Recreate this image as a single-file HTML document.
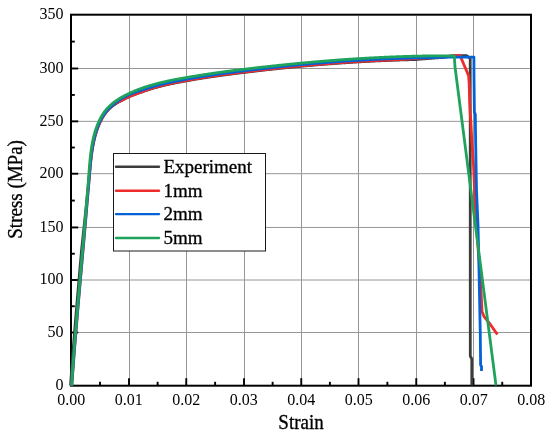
<!DOCTYPE html>
<html><head><meta charset="utf-8"><style>
html,body{margin:0;padding:0;background:#fff;}
body{width:550px;height:441px;overflow:hidden;}
svg{display:block;}
text{font-family:"Liberation Serif","Times New Roman",serif;fill:#000;}
.b text,text.b{stroke:#000;stroke-width:0.3px;}
</style></head><body>
<svg width="550" height="441" viewBox="0 0 550 441">
<g stroke="#969696" stroke-width="1" fill="none">
<line x1="129.50" y1="15.7" x2="129.50" y2="384.7"/>
<line x1="186.50" y1="15.7" x2="186.50" y2="384.7"/>
<line x1="244.50" y1="15.7" x2="244.50" y2="384.7"/>
<line x1="301.50" y1="15.7" x2="301.50" y2="384.7"/>
<line x1="358.50" y1="15.7" x2="358.50" y2="384.7"/>
<line x1="416.50" y1="15.7" x2="416.50" y2="384.7"/>
<line x1="473.50" y1="15.7" x2="473.50" y2="384.7"/>
<line x1="72" y1="332.50" x2="530" y2="332.50"/>
<line x1="72" y1="280.00" x2="530" y2="280.00"/>
<line x1="72" y1="227.45" x2="530" y2="227.45"/>
<line x1="72" y1="173.70" x2="530" y2="173.70"/>
<line x1="72" y1="121.35" x2="530" y2="121.35"/>
<line x1="72" y1="68.50" x2="530" y2="68.50"/>
</g>

<rect x="71" y="14.7" width="460" height="371" fill="none" stroke="#000" stroke-width="2"/>
<g stroke="#000" stroke-width="1.9">
<line x1="100.00" y1="385" x2="100.00" y2="381.8"/>
<line x1="129.00" y1="385" x2="129.00" y2="378.2"/>
<line x1="157.62" y1="385" x2="157.62" y2="381.8"/>
<line x1="186.25" y1="385" x2="186.25" y2="378.2"/>
<line x1="215.12" y1="385" x2="215.12" y2="381.8"/>
<line x1="244.00" y1="385" x2="244.00" y2="378.2"/>
<line x1="272.62" y1="385" x2="272.62" y2="381.8"/>
<line x1="301.25" y1="385" x2="301.25" y2="378.2"/>
<line x1="329.88" y1="385" x2="329.88" y2="381.8"/>
<line x1="358.50" y1="385" x2="358.50" y2="378.2"/>
<line x1="387.38" y1="385" x2="387.38" y2="381.8"/>
<line x1="416.25" y1="385" x2="416.25" y2="378.2"/>
<line x1="444.88" y1="385" x2="444.88" y2="381.8"/>
<line x1="473.50" y1="385" x2="473.50" y2="378.2"/>
<line x1="502.25" y1="385" x2="502.25" y2="381.8"/>
<line x1="71" y1="359.10" x2="74.8" y2="359.10"/>
<line x1="71" y1="332.50" x2="78.2" y2="332.50"/>
<line x1="71" y1="306.25" x2="74.8" y2="306.25"/>
<line x1="71" y1="280.00" x2="78.2" y2="280.00"/>
<line x1="71" y1="253.72" x2="74.8" y2="253.72"/>
<line x1="71" y1="227.45" x2="78.2" y2="227.45"/>
<line x1="71" y1="200.57" x2="74.8" y2="200.57"/>
<line x1="71" y1="173.70" x2="78.2" y2="173.70"/>
<line x1="71" y1="147.52" x2="74.8" y2="147.52"/>
<line x1="71" y1="121.35" x2="78.2" y2="121.35"/>
<line x1="71" y1="94.92" x2="74.8" y2="94.92"/>
<line x1="71" y1="68.50" x2="78.2" y2="68.50"/>
<line x1="71" y1="41.60" x2="74.8" y2="41.60"/>
</g>
<g fill="none" stroke-width="2.8" stroke-linejoin="round" stroke-linecap="butt">
<path stroke="#3c3c3c" d="M70.53,385.53 L70.58,384.82 L70.63,384.11 L70.67,383.39 L70.72,382.68 L70.77,381.97 L70.82,381.25 L70.87,380.54 L70.92,379.83 L70.97,379.11 L71.02,378.40 L71.07,377.69 L71.12,376.97 L71.17,376.26 L71.22,375.55 L71.27,374.84 L71.32,374.13 L71.37,373.41 L71.42,372.70 L71.47,371.99 L71.53,371.28 L71.58,370.57 L71.63,369.86 L71.68,369.15 L71.73,368.44 L71.78,367.73 L71.84,367.01 L71.89,366.30 L71.94,365.59 L71.99,364.88 L72.04,364.17 L72.10,363.46 L72.15,362.75 L72.20,362.04 L72.26,361.34 L72.31,360.63 L72.36,359.92 L72.42,359.21 L72.47,358.50 L72.52,357.79 L72.58,357.08 L72.63,356.37 L72.68,355.66 L72.74,354.95 L72.79,354.25 L72.85,353.54 L72.90,352.83 L72.95,352.12 L73.01,351.41 L73.06,350.71 L73.12,350.00 L73.17,349.29 L73.23,348.58 L73.28,347.88 L73.34,347.17 L73.39,346.46 L73.45,345.75 L73.50,345.05 L73.56,344.34 L73.62,343.63 L73.67,342.93 L73.73,342.22 L73.78,341.51 L73.84,340.81 L73.90,340.10 L73.95,339.39 L74.01,338.69 L74.06,337.98 L74.12,337.28 L74.18,336.57 L74.23,335.86 L74.29,335.16 L74.35,334.45 L74.41,333.75 L74.46,333.04 L74.52,332.34 L74.58,331.63 L74.63,330.93 L74.69,330.22 L74.75,329.52 L74.81,328.81 L74.86,328.11 L74.92,327.40 L74.98,326.70 L75.04,325.99 L75.10,325.29 L75.15,324.58 L75.21,323.88 L75.27,323.17 L75.33,322.47 L75.39,321.76 L75.45,321.06 L75.50,320.35 L75.56,319.65 L75.62,318.95 L75.68,318.24 L75.74,317.54 L75.80,316.83 L75.86,316.13 L75.91,315.43 L75.97,314.72 L76.03,314.02 L76.09,313.31 L76.15,312.61 L76.21,311.91 L76.27,311.20 L76.33,310.50 L76.39,309.80 L76.45,309.09 L76.51,308.39 L76.57,307.69 L76.63,306.98 L76.69,306.28 L76.75,305.58 L76.81,304.87 L76.87,304.17 L76.93,303.47 L76.99,302.76 L77.05,302.06 L77.11,301.36 L77.17,300.65 L77.23,299.95 L77.29,299.25 L77.35,298.54 L77.41,297.84 L77.47,297.14 L77.53,296.44 L77.59,295.73 L77.65,295.03 L77.71,294.33 L77.77,293.62 L77.83,292.92 L77.89,292.22 L77.95,291.52 L78.01,290.81 L78.07,290.11 L78.13,289.41 L78.19,288.70 L78.26,288.00 L78.32,287.30 L78.38,286.60 L78.44,285.89 L78.50,285.19 L78.56,284.49 L78.62,283.78 L78.68,283.08 L78.74,282.38 L78.80,281.68 L78.87,280.97 L78.93,280.27 L78.99,279.57 L79.05,278.86 L79.11,278.16 L79.17,277.46 L79.23,276.76 L79.29,276.05 L79.35,275.35 L79.42,274.65 L79.48,273.94 L79.54,273.24 L79.60,272.54 L79.66,271.84 L79.72,271.13 L79.78,270.43 L79.85,269.73 L79.91,269.02 L79.97,268.32 L80.03,267.62 L80.09,266.92 L80.15,266.21 L80.21,265.51 L80.27,264.81 L80.34,264.10 L80.40,263.40 L80.46,262.70 L80.52,261.99 L80.58,261.29 L80.64,260.59 L80.70,259.88 L80.77,259.18 L80.83,258.48 L80.89,257.77 L80.95,257.07 L81.01,256.37 L81.07,255.66 L81.13,254.96 L81.20,254.25 L81.26,253.55 L81.32,252.85 L81.38,252.14 L81.44,251.44 L81.50,250.74 L81.56,250.03 L81.64,249.33 L81.71,248.63 L81.79,247.92 L81.86,247.22 L81.94,246.52 L82.01,245.81 L82.09,245.11 L82.16,244.41 L82.24,243.70 L82.31,243.00 L82.39,242.30 L82.46,241.59 L82.54,240.89 L82.61,240.19 L82.69,239.48 L82.76,238.78 L82.84,238.08 L82.91,237.37 L82.99,236.67 L83.06,235.96 L83.14,235.26 L83.21,234.55 L83.29,233.85 L83.36,233.15 L83.44,232.44 L83.51,231.74 L83.59,231.03 L83.66,230.33 L83.74,229.62 L83.81,228.92 L83.88,228.21 L83.96,227.51 L84.03,226.80 L84.11,226.10 L84.18,225.39 L84.26,224.69 L84.33,223.98 L84.40,223.28 L84.48,222.57 L84.55,221.86 L84.63,221.16 L84.70,220.45 L84.77,219.75 L84.85,219.04 L84.92,218.33 L85.00,217.63 L85.07,216.92 L85.14,216.21 L85.22,215.51 L85.29,214.80 L85.36,214.09 L85.44,213.39 L85.51,212.68 L85.58,211.97 L85.66,211.26 L85.73,210.56 L85.80,209.85 L85.88,209.14 L85.95,208.43 L86.02,207.73 L86.10,207.02 L86.17,206.31 L86.24,205.60 L86.31,204.89 L86.39,204.18 L86.46,203.48 L86.53,202.77 L86.60,202.06 L86.68,201.35 L86.75,200.64 L86.82,199.93 L86.89,199.22 L86.96,198.51 L87.04,197.80 L87.11,197.09 L87.18,196.38 L87.25,195.67 L87.32,194.96 L87.40,194.25 L87.47,193.54 L87.54,192.83 L87.61,192.12 L87.68,191.41 L87.75,190.69 L87.82,189.98 L87.89,189.27 L87.97,188.56 L88.04,187.85 L88.11,187.14 L88.18,186.42 L88.25,185.71 L88.32,185.00 L88.39,184.29 L88.46,183.57 L88.53,182.86 L88.60,182.15 L88.67,181.43 L88.74,180.72 L88.81,180.01 L88.88,179.29 L88.95,178.58 L89.02,177.87 L89.09,177.15 L89.16,176.44 L89.23,175.72 L89.30,175.01 L89.37,174.29 L89.43,173.58 L89.50,172.86 L89.57,172.15 L89.64,171.43 L89.71,170.72 L89.78,170.00 L89.85,169.28 L89.92,168.57 L89.99,167.85 L90.06,167.14 L90.13,166.43 L90.21,165.71 L90.28,165.00 L90.35,164.28 L90.43,163.57 L90.51,162.86 L90.58,162.15 L90.66,161.43 L90.74,160.72 L90.83,160.01 L90.91,159.30 L90.99,158.59 L91.08,157.88 L91.17,157.18 L91.26,156.47 L91.35,155.76 L91.45,155.06 L91.54,154.35 L91.64,153.65 L91.74,152.94 L91.85,152.24 L91.95,151.54 L92.06,150.84 L92.17,150.14 L92.28,149.45 L92.40,148.75 L92.52,148.05 L92.64,147.36 L92.77,146.67 L92.89,145.98 L93.03,145.29 L93.16,144.60 L93.30,143.91 L93.44,143.23 L93.59,142.54 L93.73,141.86 L93.89,141.18 L94.04,140.50 L94.20,139.82 L94.35,139.14 L94.51,138.47 L94.68,137.79 L94.85,137.12 L95.02,136.45 L95.20,135.78 L95.38,135.12 L95.57,134.45 L95.76,133.79 L95.95,133.13 L96.15,132.47 L96.36,131.81 L96.57,131.16 L96.79,130.50 L97.01,129.85 L97.23,129.20 L97.46,128.56 L97.70,127.91 L97.94,127.27 L98.19,126.63 L98.44,125.99 L98.70,125.36 L98.97,124.72 L99.24,124.09 L99.51,123.46 L99.79,122.84 L100.08,122.21 L100.38,121.59 L100.68,120.97 L100.98,120.36 L101.30,119.75 L101.61,119.14 L101.94,118.54 L102.27,117.94 L102.61,117.35 L102.96,116.76 L103.31,116.17 L103.67,115.60 L104.04,115.03 L104.42,114.46 L104.80,113.90 L105.19,113.35 L105.59,112.81 L106.00,112.27 L106.43,111.75 L106.88,111.25 L107.33,110.75 L107.79,110.27 L108.25,109.78 L108.73,109.31 L109.21,108.85 L109.70,108.39 L110.20,107.94 L110.70,107.49 L111.21,107.06 L111.73,106.63 L112.26,106.20 L112.79,105.79 L113.33,105.38 L113.88,104.99 L114.45,104.61 L115.02,104.24 L115.59,103.87 L116.17,103.51 L116.76,103.16 L117.35,102.81 L117.94,102.47 L118.54,102.14 L119.14,101.81 L119.75,101.48 L120.36,101.16 L120.98,100.85 L121.60,100.54 L122.20,100.21 L122.81,99.88 L123.43,99.56 L124.04,99.24 L124.66,98.93 L125.28,98.62 L125.91,98.31 L126.54,98.01 L127.17,97.71 L127.80,97.42 L128.44,97.13 L129.08,96.84 L129.72,96.56 L130.36,96.28 L131.00,96.01 L131.65,95.74 L132.29,95.47 L132.94,95.21 L133.58,94.95 L134.23,94.69 L134.88,94.44 L135.53,94.19 L136.18,93.94 L136.83,93.70 L137.49,93.46 L138.14,93.23 L138.79,92.99 L139.45,92.76 L140.10,92.54 L140.76,92.31 L141.42,92.09 L142.07,91.86 L142.72,91.62 L143.37,91.39 L144.03,91.16 L144.68,90.94 L145.34,90.71 L146.00,90.49 L146.65,90.27 L147.31,90.06 L147.97,89.85 L148.63,89.64 L149.30,89.43 L149.96,89.23 L150.62,89.02 L151.29,88.82 L151.95,88.62 L152.61,88.42 L153.28,88.23 L153.95,88.03 L154.62,87.84 L155.28,87.65 L155.95,87.47 L156.62,87.28 L157.29,87.10 L157.97,86.92 L158.64,86.74 L159.31,86.57 L159.99,86.39 L160.66,86.22 L161.34,86.05 L162.01,85.88 L162.69,85.71 L163.37,85.55 L164.05,85.39 L164.73,85.23 L165.41,85.07 L166.09,84.91 L166.77,84.75 L167.45,84.60 L168.13,84.45 L168.82,84.30 L169.50,84.15 L170.18,84.00 L170.87,83.85 L171.56,83.71 L172.24,83.56 L172.93,83.42 L173.62,83.28 L174.30,83.14 L174.99,83.00 L175.68,82.86 L176.37,82.72 L177.06,82.59 L177.75,82.45 L178.44,82.32 L179.13,82.19 L179.82,82.06 L180.51,81.93 L181.21,81.80 L181.90,81.67 L182.59,81.54 L183.28,81.41 L183.98,81.29 L184.67,81.16 L185.37,81.03 L186.06,80.91 L186.76,80.79 L187.45,80.66 L188.15,80.54 L188.84,80.42 L189.54,80.30 L190.23,80.17 L190.93,80.05 L191.62,79.93 L192.32,79.81 L193.01,79.69 L193.71,79.57 L194.41,79.46 L195.10,79.34 L195.80,79.22 L196.50,79.11 L197.19,78.99 L197.89,78.87 L198.59,78.76 L199.28,78.64 L199.98,78.53 L200.68,78.42 L201.37,78.31 L202.07,78.20 L202.77,78.09 L203.47,77.98 L204.16,77.87 L204.86,77.76 L205.56,77.66 L206.26,77.55 L206.96,77.44 L207.66,77.34 L208.35,77.23 L209.05,77.13 L209.75,77.03 L210.45,76.92 L211.15,76.82 L211.85,76.72 L212.55,76.61 L213.25,76.51 L213.94,76.41 L214.64,76.31 L215.34,76.21 L216.04,76.11 L216.74,76.01 L217.44,75.91 L218.14,75.81 L218.84,75.71 L219.54,75.61 L220.24,75.52 L220.94,75.42 L221.64,75.32 L222.34,75.22 L223.04,75.13 L223.74,75.03 L224.44,74.94 L225.14,74.84 L225.84,74.75 L226.54,74.65 L227.24,74.56 L227.94,74.47 L228.64,74.37 L229.34,74.28 L230.04,74.19 L230.74,74.10 L231.45,74.00 L232.15,73.91 L232.85,73.82 L233.55,73.73 L234.25,73.64 L234.95,73.55 L235.65,73.46 L236.35,73.37 L237.06,73.28 L237.76,73.19 L238.46,73.11 L239.16,73.02 L239.86,72.93 L240.56,72.84 L241.26,72.76 L241.97,72.67 L242.67,72.58 L243.37,72.50 L244.07,72.41 L244.77,72.33 L245.48,72.24 L246.18,72.16 L246.88,72.07 L247.58,71.99 L248.29,71.90 L248.99,71.82 L249.69,71.74 L250.39,71.65 L251.10,71.57 L251.80,71.49 L252.50,71.40 L253.20,71.32 L253.91,71.24 L254.61,71.16 L255.31,71.08 L256.01,71.00 L256.72,70.91 L257.42,70.83 L258.12,70.75 L258.83,70.67 L259.53,70.59 L260.23,70.51 L260.94,70.43 L261.64,70.35 L262.34,70.28 L263.05,70.20 L263.75,70.12 L264.45,70.04 L265.16,69.96 L265.86,69.88 L266.56,69.81 L267.27,69.73 L267.97,69.65 L268.67,69.57 L269.38,69.50 L270.08,69.42 L270.78,69.34 L271.49,69.27 L272.19,69.19 L272.89,69.11 L273.60,69.04 L274.30,68.96 L275.01,68.89 L275.71,68.81 L276.41,68.74 L277.12,68.66 L277.82,68.59 L278.53,68.51 L279.23,68.44 L279.93,68.37 L280.64,68.29 L281.34,68.22 L282.04,68.15 L282.75,68.07 L283.45,68.00 L284.16,67.93 L284.86,67.86 L285.56,67.78 L286.27,67.71 L286.97,67.64 L287.68,67.57 L288.38,67.50 L289.09,67.43 L289.79,67.36 L290.49,67.29 L291.20,67.22 L291.90,67.15 L292.61,67.08 L293.31,67.01 L294.02,66.94 L294.72,66.87 L295.42,66.80 L296.13,66.73 L296.83,66.66 L297.54,66.59 L298.24,66.53 L298.95,66.46 L299.65,66.39 L300.36,66.32 L301.06,66.26 L301.76,66.20 L302.47,66.13 L303.17,66.07 L303.88,66.01 L304.58,65.94 L305.29,65.88 L305.99,65.82 L306.70,65.75 L307.40,65.69 L308.11,65.63 L308.81,65.57 L309.52,65.51 L310.22,65.45 L310.93,65.39 L311.63,65.32 L312.34,65.26 L313.04,65.20 L313.75,65.14 L314.45,65.08 L315.16,65.03 L315.86,64.97 L316.57,64.91 L317.27,64.85 L317.98,64.79 L318.68,64.73 L319.39,64.67 L320.09,64.62 L320.80,64.56 L321.50,64.50 L322.21,64.45 L322.92,64.39 L323.62,64.33 L324.33,64.28 L325.03,64.22 L325.74,64.17 L326.44,64.11 L327.15,64.06 L327.85,64.00 L328.56,63.95 L329.26,63.89 L329.97,63.84 L330.67,63.79 L331.38,63.73 L332.09,63.68 L332.79,63.63 L333.50,63.57 L334.20,63.52 L334.91,63.47 L335.61,63.42 L336.32,63.37 L337.02,63.32 L337.73,63.27 L338.43,63.22 L339.14,63.17 L339.85,63.12 L340.55,63.07 L341.26,63.02 L341.96,62.97 L342.67,62.92 L343.37,62.87 L344.08,62.82 L344.79,62.77 L345.49,62.73 L346.20,62.68 L346.90,62.63 L347.61,62.59 L348.31,62.54 L349.02,62.49 L349.73,62.45 L350.43,62.40 L351.14,62.36 L351.84,62.31 L352.55,62.27 L353.25,62.22 L353.96,62.18 L354.67,62.13 L355.37,62.09 L356.08,62.05 L356.78,62.00 L357.49,61.96 L358.20,61.92 L358.90,61.88 L359.61,61.84 L360.31,61.79 L361.02,61.75 L361.73,61.71 L362.43,61.67 L363.14,61.63 L363.84,61.59 L364.55,61.55 L365.26,61.51 L365.96,61.47 L366.67,61.44 L367.37,61.40 L368.08,61.36 L368.79,61.32 L369.49,61.28 L370.20,61.25 L370.90,61.21 L371.61,61.17 L372.32,61.14 L373.02,61.10 L373.73,61.07 L374.44,61.03 L375.14,61.00 L375.85,60.96 L376.55,60.93 L377.26,60.90 L377.97,60.86 L378.67,60.83 L379.38,60.80 L380.09,60.76 L380.79,60.73 L381.50,60.70 L382.20,60.67 L382.91,60.64 L383.62,60.61 L384.32,60.57 L385.03,60.54 L385.74,60.51 L386.44,60.49 L387.15,60.46 L387.85,60.43 L388.56,60.40 L389.27,60.37 L389.97,60.34 L390.68,60.31 L391.39,60.29 L392.09,60.26 L392.80,60.23 L393.51,60.21 L394.21,60.18 L394.92,60.16 L395.63,60.13 L396.33,60.11 L397.04,60.08 L397.74,60.06 L398.45,60.03 L399.16,60.01 L399.86,59.99 L400.57,59.97 L401.28,59.94 L401.98,59.92 L402.69,59.90 L403.40,59.88 L404.10,59.86 L404.81,59.84 L405.52,59.82 L406.22,59.80 L406.93,59.78 L407.64,59.76 L408.34,59.74 L409.05,59.72 L409.76,59.70 L410.46,59.68 L411.17,59.67 L411.88,59.65 L412.58,59.63 L413.29,59.62 L414.00,59.60 L414.70,59.58 L415.41,59.57 L416.11,59.51 L416.82,59.44 L417.53,59.38 L418.23,59.32 L418.94,59.26 L419.64,59.20 L420.35,59.14 L421.05,59.08 L421.76,59.02 L422.47,58.96 L423.17,58.90 L423.88,58.84 L424.58,58.79 L425.29,58.73 L426.00,58.67 L426.70,58.61 L427.41,58.56 L428.12,58.50 L428.82,58.45 L429.53,58.39 L430.24,58.33 L430.94,58.28 L431.65,58.23 L432.36,58.17 L433.06,58.12 L433.77,58.07 L434.48,58.01 L435.18,57.96 L435.89,57.91 L436.60,57.86 L437.31,57.81 L438.01,57.75 L438.72,57.70 L439.43,57.65 L440.13,57.60 L440.84,57.50 L441.55,57.40 L442.26,57.30 L442.96,57.19 L443.67,57.09 L444.38,56.99 L445.09,56.89 L445.80,56.79 L446.50,56.69 L447.21,56.59 L447.92,56.49 L448.63,56.39 L449.34,56.29 L450.05,56.19 L450.76,56.09 L451.46,56.00 L452.17,55.90 L452.88,55.80 L453.59,55.70 L454.30,55.61 L466.60,55.60 L470.20,58.50 L470.30,356.00 L471.80,359.00 L471.80,385.50"/>
<path stroke="#ee2c2c" d="M71.83,385.62 L71.87,384.91 L71.92,384.19 L71.97,383.48 L72.02,382.77 L72.07,382.05 L72.12,381.34 L72.17,380.63 L72.23,379.92 L72.28,379.20 L72.33,378.49 L72.38,377.78 L72.43,377.07 L72.48,376.36 L72.53,375.64 L72.58,374.93 L72.64,374.22 L72.69,373.51 L72.74,372.80 L72.79,372.09 L72.84,371.38 L72.90,370.66 L72.95,369.95 L73.00,369.24 L73.05,368.53 L73.11,367.82 L73.16,367.11 L73.21,366.40 L73.27,365.69 L73.32,364.98 L73.37,364.27 L73.43,363.56 L73.48,362.85 L73.54,362.14 L73.59,361.43 L73.64,360.73 L73.70,360.02 L73.75,359.31 L73.81,358.60 L73.86,357.89 L73.92,357.18 L73.97,356.47 L74.03,355.77 L74.08,355.06 L74.14,354.35 L74.19,353.64 L74.25,352.93 L74.30,352.23 L74.36,351.52 L74.41,350.81 L74.47,350.10 L74.53,349.40 L74.58,348.69 L74.64,347.98 L74.70,347.27 L74.75,346.57 L74.81,345.86 L74.86,345.15 L74.92,344.45 L74.98,343.74 L75.04,343.03 L75.09,342.33 L75.15,341.62 L75.21,340.92 L75.26,340.21 L75.32,339.50 L75.38,338.80 L75.44,338.09 L75.49,337.39 L75.55,336.68 L75.61,335.98 L75.67,335.27 L75.73,334.56 L75.78,333.86 L75.84,333.15 L75.90,332.45 L75.96,331.74 L76.02,331.04 L76.08,330.33 L76.13,329.63 L76.19,328.92 L76.25,328.22 L76.31,327.51 L76.37,326.81 L76.43,326.11 L76.49,325.40 L76.55,324.70 L76.61,323.99 L76.67,323.29 L76.72,322.58 L76.78,321.88 L76.84,321.17 L76.90,320.47 L76.96,319.77 L77.02,319.06 L77.08,318.36 L77.14,317.66 L77.20,316.95 L77.26,316.25 L77.32,315.54 L77.38,314.84 L77.44,314.14 L77.50,313.43 L77.56,312.73 L77.62,312.03 L77.68,311.32 L77.74,310.62 L77.81,309.92 L77.87,309.21 L77.93,308.51 L77.99,307.81 L78.05,307.10 L78.11,306.40 L78.17,305.70 L78.23,304.99 L78.29,304.29 L78.35,303.59 L78.41,302.88 L78.47,302.18 L78.54,301.48 L78.60,300.78 L78.66,300.07 L78.72,299.37 L78.78,298.67 L78.84,297.96 L78.90,297.26 L78.97,296.56 L79.03,295.86 L79.09,295.15 L79.15,294.45 L79.21,293.75 L79.27,293.05 L79.34,292.34 L79.40,291.64 L79.46,290.94 L79.52,290.23 L79.58,289.53 L79.64,288.83 L79.71,288.13 L79.77,287.42 L79.83,286.72 L79.89,286.02 L79.96,285.32 L80.02,284.61 L80.08,283.91 L80.14,283.21 L80.20,282.51 L80.27,281.80 L80.33,281.10 L80.39,280.40 L80.45,279.70 L80.51,278.99 L80.58,278.29 L80.64,277.59 L80.70,276.88 L80.76,276.18 L80.83,275.48 L80.89,274.78 L80.95,274.07 L81.01,273.37 L81.08,272.67 L81.14,271.97 L81.20,271.26 L81.26,270.56 L81.33,269.86 L81.39,269.15 L81.45,268.45 L81.51,267.75 L81.58,267.05 L81.64,266.34 L81.70,265.64 L81.76,264.94 L81.83,264.23 L81.89,263.53 L81.95,262.83 L82.01,262.12 L82.08,261.42 L82.14,260.72 L82.20,260.01 L82.26,259.31 L82.33,258.61 L82.39,257.90 L82.45,257.20 L82.51,256.50 L82.58,255.79 L82.64,255.09 L82.70,254.39 L82.76,253.68 L82.83,252.98 L82.89,252.27 L82.95,251.57 L83.01,250.87 L83.08,250.16 L83.14,249.46 L83.20,248.76 L83.26,248.05 L83.33,247.35 L83.39,246.64 L83.45,245.94 L83.51,245.23 L83.57,244.53 L83.64,243.83 L83.70,243.12 L83.76,242.42 L83.82,241.71 L83.89,241.01 L83.95,240.30 L84.01,239.60 L84.07,238.89 L84.13,238.19 L84.20,237.48 L84.26,236.78 L84.32,236.07 L84.38,235.37 L84.44,234.66 L84.51,233.96 L84.57,233.25 L84.63,232.54 L84.69,231.84 L84.75,231.13 L84.81,230.43 L84.88,229.72 L84.94,229.01 L85.00,228.31 L85.06,227.60 L85.12,226.90 L85.18,226.19 L85.24,225.48 L85.31,224.78 L85.37,224.07 L85.43,223.36 L85.49,222.66 L85.55,221.95 L85.61,221.24 L85.67,220.53 L85.73,219.83 L85.79,219.12 L85.86,218.41 L85.92,217.71 L85.98,217.00 L86.04,216.29 L86.10,215.58 L86.16,214.87 L86.22,214.17 L86.28,213.46 L86.34,212.75 L86.40,212.04 L86.46,211.33 L86.52,210.62 L86.58,209.91 L86.64,209.21 L86.70,208.50 L86.76,207.79 L86.82,207.08 L86.88,206.37 L86.94,205.66 L87.00,204.95 L87.06,204.24 L87.12,203.53 L87.18,202.82 L87.24,202.11 L87.30,201.40 L87.36,200.69 L87.42,199.98 L87.48,199.27 L87.54,198.56 L87.61,197.85 L87.67,197.14 L87.73,196.43 L87.79,195.71 L87.85,195.00 L87.92,194.29 L87.98,193.58 L88.04,192.87 L88.10,192.16 L88.16,191.44 L88.23,190.73 L88.29,190.02 L88.35,189.31 L88.41,188.60 L88.47,187.88 L88.53,187.17 L88.60,186.46 L88.66,185.74 L88.72,185.03 L88.78,184.32 L88.84,183.60 L88.90,182.89 L88.96,182.18 L89.02,181.46 L89.08,180.75 L89.14,180.03 L89.20,179.32 L89.26,178.60 L89.32,177.89 L89.38,177.17 L89.44,176.46 L89.50,175.74 L89.56,175.03 L89.62,174.31 L89.68,173.60 L89.74,172.88 L89.80,172.16 L89.86,171.45 L89.92,170.73 L89.98,170.02 L90.04,169.30 L90.10,168.58 L90.16,167.87 L90.22,167.15 L90.28,166.44 L90.35,165.72 L90.41,165.01 L90.48,164.29 L90.54,163.58 L90.61,162.87 L90.68,162.15 L90.75,161.44 L90.82,160.73 L90.89,160.02 L90.96,159.31 L91.04,158.60 L91.12,157.89 L91.20,157.18 L91.28,156.47 L91.36,155.76 L91.44,155.06 L91.53,154.35 L91.62,153.64 L91.71,152.94 L91.81,152.24 L91.90,151.54 L92.00,150.83 L92.10,150.13 L92.21,149.43 L92.31,148.74 L92.42,148.04 L92.54,147.34 L92.65,146.65 L92.77,145.96 L92.89,145.26 L93.02,144.57 L93.15,143.88 L93.28,143.20 L93.42,142.51 L93.56,141.82 L93.70,141.14 L93.85,140.46 L94.00,139.78 L94.17,139.10 L94.33,138.43 L94.50,137.75 L94.67,137.08 L94.85,136.41 L95.03,135.74 L95.22,135.07 L95.41,134.41 L95.61,133.75 L95.81,133.08 L96.01,132.43 L96.22,131.77 L96.44,131.11 L96.66,130.46 L96.88,129.81 L97.12,129.16 L97.35,128.52 L97.59,127.87 L97.84,127.23 L98.09,126.59 L98.35,125.95 L98.61,125.32 L98.88,124.69 L99.15,124.06 L99.43,123.43 L99.72,122.80 L100.01,122.18 L100.31,121.56 L100.62,120.95 L100.93,120.33 L101.24,119.72 L101.57,119.12 L101.90,118.52 L102.23,117.92 L102.58,117.33 L102.93,116.74 L103.29,116.16 L103.65,115.58 L104.02,115.01 L104.40,114.45 L104.79,113.89 L105.19,113.34 L105.59,112.80 L106.00,112.27 L106.42,111.74 L106.85,111.23 L107.28,110.72 L107.73,110.22 L108.18,109.72 L108.65,109.24 L109.12,108.76 L109.60,108.28 L110.08,107.82 L110.58,107.36 L111.08,106.91 L111.58,106.46 L112.10,106.02 L112.62,105.59 L113.15,105.16 L113.68,104.74 L114.23,104.33 L114.77,103.92 L115.33,103.52 L115.89,103.12 L116.49,102.78 L117.09,102.45 L117.70,102.12 L118.32,101.80 L118.94,101.49 L119.56,101.18 L120.18,100.88 L120.81,100.58 L121.44,100.29 L122.06,99.96 L122.68,99.65 L123.30,99.33 L123.92,99.02 L124.55,98.72 L125.18,98.42 L125.81,98.13 L126.45,97.84 L127.09,97.55 L127.73,97.27 L128.37,96.99 L129.01,96.72 L129.66,96.44 L130.31,96.18 L130.95,95.90 L131.60,95.63 L132.24,95.37 L132.89,95.10 L133.54,94.85 L134.19,94.59 L134.84,94.34 L135.49,94.09 L136.14,93.84 L136.79,93.60 L137.45,93.36 L138.10,93.13 L138.76,92.90 L139.41,92.67 L140.07,92.44 L140.73,92.22 L141.38,92.00 L142.03,91.75 L142.68,91.50 L143.33,91.26 L143.98,91.02 L144.63,90.78 L145.28,90.54 L145.94,90.31 L146.59,90.08 L147.25,89.85 L147.90,89.62 L148.56,89.40 L149.22,89.18 L149.88,88.96 L150.54,88.75 L151.20,88.54 L151.86,88.33 L152.53,88.13 L153.20,87.94 L153.86,87.74 L154.53,87.55 L155.20,87.36 L155.87,87.17 L156.54,86.98 L157.21,86.80 L157.89,86.62 L158.56,86.44 L159.23,86.26 L159.91,86.08 L160.59,85.91 L161.26,85.74 L161.94,85.57 L162.62,85.40 L163.29,85.23 L163.97,85.07 L164.65,84.91 L165.33,84.75 L166.02,84.59 L166.70,84.43 L167.38,84.27 L168.06,84.12 L168.75,83.97 L169.43,83.82 L170.12,83.67 L170.80,83.52 L171.49,83.37 L172.17,83.23 L172.86,83.08 L173.55,82.94 L174.24,82.80 L174.92,82.66 L175.61,82.52 L176.30,82.38 L176.99,82.24 L177.68,82.11 L178.37,81.97 L179.07,81.84 L179.76,81.70 L180.45,81.57 L181.14,81.44 L181.83,81.31 L182.53,81.18 L183.22,81.05 L183.91,80.92 L184.61,80.80 L185.30,80.67 L186.00,80.54 L186.69,80.42 L187.39,80.29 L188.08,80.17 L188.78,80.05 L189.47,79.92 L190.17,79.80 L190.86,79.68 L191.56,79.56 L192.26,79.43 L192.95,79.31 L193.65,79.19 L194.34,79.07 L195.04,78.96 L195.74,78.84 L196.43,78.72 L197.13,78.60 L197.83,78.48 L198.52,78.37 L199.22,78.25 L199.92,78.14 L200.61,78.02 L201.31,77.91 L202.01,77.80 L202.71,77.69 L203.41,77.58 L204.10,77.48 L204.80,77.37 L205.50,77.26 L206.20,77.16 L206.90,77.05 L207.60,76.94 L208.29,76.84 L208.99,76.73 L209.69,76.63 L210.39,76.53 L211.09,76.42 L211.79,76.32 L212.49,76.22 L213.19,76.12 L213.89,76.01 L214.59,75.91 L215.29,75.81 L215.99,75.71 L216.69,75.61 L217.39,75.51 L218.08,75.41 L218.78,75.32 L219.48,75.22 L220.18,75.12 L220.88,75.02 L221.58,74.93 L222.29,74.83 L222.99,74.73 L223.69,74.64 L224.39,74.54 L225.09,74.45 L225.79,74.35 L226.49,74.26 L227.19,74.16 L227.89,74.07 L228.59,73.98 L229.29,73.88 L229.99,73.79 L230.69,73.70 L231.39,73.61 L232.10,73.52 L232.80,73.43 L233.50,73.33 L234.20,73.24 L234.90,73.15 L235.60,73.06 L236.30,72.98 L237.01,72.89 L237.71,72.80 L238.41,72.71 L239.11,72.62 L239.81,72.53 L240.51,72.45 L241.22,72.36 L241.92,72.27 L242.62,72.19 L243.32,72.10 L244.02,72.01 L244.73,71.93 L245.43,71.84 L246.13,71.76 L246.83,71.67 L247.54,71.59 L248.24,71.51 L248.94,71.42 L249.64,71.34 L250.35,71.26 L251.05,71.17 L251.75,71.09 L252.45,71.01 L253.16,70.92 L253.86,70.84 L254.56,70.76 L255.27,70.68 L255.97,70.60 L256.67,70.52 L257.37,70.44 L258.08,70.36 L258.78,70.28 L259.48,70.20 L260.19,70.12 L260.89,70.04 L261.59,69.96 L262.30,69.88 L263.00,69.80 L263.70,69.72 L264.41,69.64 L265.11,69.56 L265.82,69.49 L266.52,69.41 L267.22,69.33 L267.93,69.25 L268.63,69.18 L269.33,69.10 L270.04,69.02 L270.74,68.95 L271.44,68.87 L272.15,68.79 L272.85,68.72 L273.56,68.64 L274.26,68.57 L274.96,68.49 L275.67,68.41 L276.37,68.34 L277.08,68.27 L277.78,68.19 L278.48,68.12 L279.19,68.04 L279.89,67.97 L280.60,67.90 L281.30,67.82 L282.00,67.75 L282.71,67.68 L283.41,67.60 L284.12,67.53 L284.82,67.46 L285.52,67.39 L286.23,67.31 L286.93,67.24 L287.64,67.17 L288.34,67.10 L289.05,67.03 L289.75,66.96 L290.45,66.89 L291.16,66.82 L291.86,66.75 L292.57,66.68 L293.27,66.61 L293.98,66.54 L294.68,66.47 L295.39,66.40 L296.09,66.33 L296.79,66.26 L297.50,66.20 L298.20,66.13 L298.91,66.06 L299.61,65.99 L300.32,65.93 L301.02,65.86 L301.73,65.80 L302.43,65.73 L303.14,65.67 L303.84,65.61 L304.55,65.55 L305.25,65.48 L305.96,65.42 L306.66,65.36 L307.37,65.30 L308.07,65.24 L308.78,65.17 L309.48,65.11 L310.19,65.05 L310.89,64.99 L311.60,64.93 L312.30,64.87 L313.01,64.81 L313.71,64.75 L314.42,64.69 L315.12,64.63 L315.83,64.57 L316.53,64.52 L317.24,64.46 L317.95,64.40 L318.65,64.34 L319.36,64.28 L320.06,64.23 L320.77,64.17 L321.47,64.11 L322.18,64.06 L322.88,64.00 L323.59,63.94 L324.29,63.89 L325.00,63.83 L325.71,63.78 L326.41,63.72 L327.12,63.67 L327.82,63.61 L328.53,63.56 L329.23,63.51 L329.94,63.45 L330.64,63.40 L331.35,63.35 L332.06,63.29 L332.76,63.24 L333.47,63.19 L334.17,63.14 L334.88,63.09 L335.58,63.03 L336.29,62.98 L337.00,62.93 L337.70,62.88 L338.41,62.83 L339.11,62.78 L339.82,62.73 L340.52,62.68 L341.23,62.63 L341.94,62.59 L342.64,62.54 L343.35,62.49 L344.05,62.44 L344.76,62.39 L345.46,62.35 L346.17,62.30 L346.88,62.25 L347.58,62.21 L348.29,62.16 L348.99,62.11 L349.70,62.07 L350.41,62.02 L351.11,61.98 L351.82,61.93 L352.52,61.89 L353.23,61.84 L353.94,61.80 L354.64,61.76 L355.35,61.71 L356.05,61.67 L356.76,61.63 L357.47,61.59 L358.17,61.54 L358.88,61.50 L359.59,61.46 L360.29,61.42 L361.00,61.38 L361.70,61.34 L362.41,61.30 L363.12,61.26 L363.82,61.22 L364.53,61.18 L365.23,61.14 L365.94,61.10 L366.65,61.06 L367.35,61.03 L368.06,60.99 L368.77,60.95 L369.47,60.91 L370.18,60.88 L370.88,60.84 L371.59,60.80 L372.30,60.77 L373.00,60.73 L373.71,60.70 L374.42,60.66 L375.12,60.63 L375.83,60.59 L376.54,60.56 L377.24,60.53 L377.95,60.49 L378.65,60.46 L379.36,60.43 L380.07,60.40 L380.77,60.36 L381.48,60.33 L382.19,60.30 L382.89,60.27 L383.60,60.24 L384.31,60.21 L385.01,60.18 L385.72,60.15 L386.43,60.12 L387.13,60.09 L387.84,60.06 L388.55,60.03 L389.25,60.01 L389.96,59.98 L390.67,59.95 L391.37,59.93 L392.08,59.90 L392.79,59.87 L393.49,59.85 L394.20,59.82 L394.90,59.80 L395.61,59.77 L396.32,59.75 L397.02,59.72 L397.73,59.70 L398.44,59.67 L399.14,59.65 L399.85,59.63 L400.56,59.58 L401.26,59.53 L401.97,59.48 L402.67,59.43 L403.38,59.38 L404.09,59.33 L404.79,59.28 L405.50,59.23 L406.20,59.18 L406.91,59.14 L407.62,59.09 L408.32,59.04 L409.03,58.99 L409.73,58.95 L410.44,58.90 L411.15,58.86 L411.85,58.81 L412.56,58.77 L413.27,58.72 L413.97,58.68 L414.68,58.63 L415.38,58.59 L416.09,58.55 L416.80,58.50 L417.50,58.46 L418.21,58.42 L418.92,58.38 L419.62,58.34 L420.33,58.30 L421.04,58.26 L421.74,58.22 L422.45,58.18 L423.16,58.14 L423.87,58.10 L424.57,58.06 L425.28,58.02 L425.99,57.98 L426.69,57.95 L427.40,57.91 L428.11,57.87 L428.81,57.83 L429.52,57.80 L430.23,57.76 L430.94,57.73 L431.64,57.69 L432.35,57.66 L433.06,57.62 L433.76,57.59 L434.47,57.56 L435.18,57.52 L435.89,57.49 L436.59,57.46 L437.30,57.43 L438.01,57.40 L438.72,57.37 L439.43,57.33 L440.13,57.30 L440.84,57.22 L441.55,57.13 L442.26,57.04 L442.96,56.95 L443.67,56.87 L444.38,56.78 L445.09,56.69 L445.80,56.61 L446.50,56.52 L447.21,56.44 L447.92,56.35 L448.63,56.27 L449.34,56.18 L450.05,56.10 L450.76,56.02 L451.46,55.94 L452.17,55.85 L452.88,55.77 L453.59,55.69 L454.30,55.61 L460.60,55.60 L461.20,58.20 L468.60,75.60 L469.20,84.00 L469.60,100.00 L470.20,113.00 L470.80,121.00 L471.90,142.00 L473.40,162.70 L474.50,188.00 L475.10,211.00 L480.30,276.00 L481.00,290.00 L482.00,311.50 L483.90,316.30 L490.20,324.20 L497.40,334.50"/>
<path stroke="#0362d8" d="M71.73,385.62 L71.77,384.90 L71.82,384.19 L71.87,383.47 L71.92,382.76 L71.97,382.05 L72.02,381.33 L72.07,380.62 L72.12,379.91 L72.17,379.20 L72.22,378.48 L72.27,377.77 L72.33,377.06 L72.38,376.35 L72.43,375.64 L72.48,374.92 L72.53,374.21 L72.58,373.50 L72.63,372.79 L72.69,372.08 L72.74,371.37 L72.79,370.66 L72.84,369.95 L72.89,369.24 L72.95,368.52 L73.00,367.81 L73.05,367.10 L73.10,366.39 L73.16,365.68 L73.21,364.97 L73.26,364.26 L73.32,363.55 L73.37,362.85 L73.42,362.14 L73.48,361.43 L73.53,360.72 L73.59,360.01 L73.64,359.30 L73.69,358.59 L73.75,357.88 L73.80,357.17 L73.86,356.47 L73.91,355.76 L73.97,355.05 L74.02,354.34 L74.08,353.63 L74.13,352.92 L74.19,352.22 L74.24,351.51 L74.30,350.80 L74.35,350.09 L74.41,349.39 L74.46,348.68 L74.52,347.97 L74.58,347.27 L74.63,346.56 L74.69,345.85 L74.74,345.14 L74.80,344.44 L74.86,343.73 L74.91,343.03 L74.97,342.32 L75.03,341.61 L75.08,340.91 L75.14,340.20 L75.20,339.49 L75.25,338.79 L75.31,338.08 L75.37,337.38 L75.43,336.67 L75.48,335.97 L75.54,335.26 L75.60,334.55 L75.66,333.85 L75.71,333.14 L75.77,332.44 L75.83,331.73 L75.89,331.03 L75.95,330.32 L76.00,329.62 L76.06,328.91 L76.12,328.21 L76.18,327.50 L76.24,326.80 L76.30,326.09 L76.36,325.39 L76.41,324.69 L76.47,323.98 L76.53,323.28 L76.59,322.57 L76.65,321.87 L76.71,321.16 L76.77,320.46 L76.83,319.76 L76.89,319.05 L76.95,318.35 L77.01,317.64 L77.07,316.94 L77.13,316.24 L77.19,315.53 L77.25,314.83 L77.30,314.13 L77.36,313.42 L77.42,312.72 L77.48,312.01 L77.54,311.31 L77.60,310.61 L77.67,309.90 L77.73,309.20 L77.79,308.50 L77.85,307.79 L77.91,307.09 L77.97,306.39 L78.03,305.68 L78.09,304.98 L78.15,304.28 L78.21,303.58 L78.27,302.87 L78.33,302.17 L78.39,301.47 L78.45,300.76 L78.51,300.06 L78.57,299.36 L78.64,298.65 L78.70,297.95 L78.76,297.25 L78.82,296.55 L78.88,295.84 L78.94,295.14 L79.00,294.44 L79.06,293.74 L79.12,293.03 L79.19,292.33 L79.25,291.63 L79.31,290.92 L79.37,290.22 L79.43,289.52 L79.49,288.82 L79.56,288.11 L79.62,287.41 L79.68,286.71 L79.74,286.01 L79.80,285.30 L79.86,284.60 L79.93,283.90 L79.99,283.19 L80.05,282.49 L80.11,281.79 L80.17,281.09 L80.23,280.38 L80.30,279.68 L80.36,278.98 L80.42,278.28 L80.48,277.57 L80.54,276.87 L80.61,276.17 L80.67,275.47 L80.73,274.76 L80.79,274.06 L80.85,273.36 L80.92,272.65 L80.98,271.95 L81.04,271.25 L81.10,270.55 L81.16,269.84 L81.23,269.14 L81.29,268.44 L81.35,267.73 L81.41,267.03 L81.48,266.33 L81.54,265.62 L81.60,264.92 L81.66,264.22 L81.72,263.52 L81.79,262.81 L81.85,262.11 L81.91,261.41 L81.97,260.70 L82.03,260.00 L82.10,259.30 L82.16,258.59 L82.22,257.89 L82.28,257.19 L82.35,256.48 L82.41,255.78 L82.47,255.07 L82.53,254.37 L82.59,253.67 L82.66,252.96 L82.72,252.26 L82.78,251.56 L82.84,250.85 L82.90,250.15 L82.97,249.44 L83.03,248.74 L83.09,248.04 L83.15,247.33 L83.21,246.63 L83.28,245.92 L83.34,245.22 L83.40,244.51 L83.46,243.81 L83.52,243.11 L83.58,242.40 L83.65,241.70 L83.71,240.99 L83.77,240.29 L83.83,239.58 L83.89,238.88 L83.96,238.17 L84.02,237.47 L84.08,236.76 L84.14,236.06 L84.20,235.35 L84.26,234.65 L84.32,233.94 L84.39,233.23 L84.45,232.53 L84.51,231.82 L84.57,231.12 L84.63,230.41 L84.69,229.71 L84.75,229.00 L84.81,228.29 L84.88,227.59 L84.94,226.88 L85.00,226.17 L85.06,225.47 L85.12,224.76 L85.18,224.05 L85.24,223.35 L85.30,222.64 L85.36,221.93 L85.42,221.23 L85.48,220.52 L85.55,219.81 L85.61,219.10 L85.67,218.40 L85.73,217.69 L85.79,216.98 L85.85,216.27 L85.91,215.57 L85.97,214.86 L86.03,214.15 L86.09,213.44 L86.15,212.73 L86.21,212.02 L86.27,211.32 L86.33,210.61 L86.39,209.90 L86.45,209.19 L86.51,208.48 L86.57,207.77 L86.63,207.06 L86.69,206.35 L86.75,205.64 L86.80,204.93 L86.86,204.22 L86.92,203.51 L86.98,202.80 L87.04,202.09 L87.10,201.38 L87.16,200.67 L87.22,199.96 L87.28,199.25 L87.34,198.54 L87.41,197.83 L87.47,197.12 L87.53,196.41 L87.59,195.70 L87.66,194.99 L87.72,194.28 L87.78,193.56 L87.84,192.85 L87.90,192.14 L87.97,191.43 L88.03,190.72 L88.09,190.00 L88.15,189.29 L88.21,188.58 L88.27,187.87 L88.33,187.15 L88.40,186.44 L88.46,185.73 L88.52,185.01 L88.58,184.30 L88.64,183.59 L88.70,182.87 L88.76,182.16 L88.82,181.45 L88.88,180.73 L88.94,180.02 L89.00,179.30 L89.06,178.59 L89.12,177.87 L89.18,177.16 L89.24,176.44 L89.30,175.73 L89.36,175.01 L89.42,174.30 L89.48,173.58 L89.54,172.86 L89.60,172.15 L89.66,171.43 L89.72,170.72 L89.78,170.00 L89.84,169.28 L89.90,168.57 L89.96,167.85 L90.02,167.14 L90.09,166.42 L90.15,165.71 L90.21,164.99 L90.28,164.28 L90.34,163.56 L90.41,162.85 L90.48,162.14 L90.55,161.42 L90.62,160.71 L90.69,160.00 L90.77,159.29 L90.84,158.58 L90.92,157.87 L91.00,157.16 L91.08,156.45 L91.16,155.74 L91.25,155.03 L91.33,154.33 L91.42,153.62 L91.51,152.92 L91.61,152.21 L91.70,151.51 L91.80,150.81 L91.90,150.11 L92.01,149.41 L92.12,148.71 L92.23,148.01 L92.34,147.31 L92.46,146.62 L92.57,145.92 L92.70,145.23 L92.82,144.54 L92.95,143.85 L93.08,143.16 L93.22,142.47 L93.36,141.79 L93.50,141.10 L93.65,140.42 L93.80,139.74 L93.96,139.06 L94.11,138.38 L94.28,137.70 L94.44,137.02 L94.61,136.35 L94.79,135.68 L94.97,135.01 L95.15,134.34 L95.34,133.67 L95.54,133.01 L95.73,132.34 L95.94,131.68 L96.15,131.02 L96.36,130.36 L96.58,129.71 L96.80,129.06 L97.03,128.40 L97.27,127.75 L97.51,127.11 L97.75,126.46 L98.00,125.82 L98.26,125.18 L98.52,124.54 L98.79,123.90 L99.07,123.27 L99.35,122.64 L99.64,122.01 L99.93,121.38 L100.24,120.77 L100.56,120.15 L100.89,119.54 L101.22,118.94 L101.56,118.33 L101.91,117.74 L102.26,117.15 L102.62,116.56 L102.98,115.98 L103.36,115.40 L103.74,114.83 L104.13,114.27 L104.52,113.71 L104.93,113.16 L105.34,112.62 L105.76,112.09 L106.18,111.56 L106.61,111.04 L107.05,110.52 L107.50,110.02 L107.95,109.52 L108.42,109.03 L108.89,108.54 L109.37,108.07 L109.86,107.59 L110.36,107.13 L110.86,106.67 L111.37,106.23 L111.89,105.78 L112.41,105.34 L112.94,104.91 L113.45,104.46 L113.97,104.01 L114.50,103.56 L115.03,103.12 L115.57,102.69 L116.11,102.26 L116.66,101.83 L117.22,101.41 L117.78,101.00 L118.35,100.59 L118.92,100.18 L119.50,99.78 L120.09,99.39 L120.67,99.00 L121.29,98.65 L121.91,98.31 L122.53,97.97 L123.15,97.64 L123.78,97.31 L124.41,96.99 L125.05,96.67 L125.68,96.35 L126.32,96.04 L126.96,95.73 L127.60,95.43 L128.25,95.13 L128.90,94.84 L129.54,94.55 L130.20,94.28 L130.86,94.01 L131.51,93.74 L132.17,93.48 L132.83,93.22 L133.49,92.97 L134.15,92.72 L134.81,92.47 L135.47,92.23 L136.14,91.99 L136.80,91.75 L137.46,91.52 L138.13,91.29 L138.80,91.06 L139.46,90.84 L140.13,90.62 L140.80,90.41 L141.46,90.18 L142.12,89.95 L142.79,89.73 L143.45,89.51 L144.12,89.30 L144.79,89.08 L145.46,88.87 L146.13,88.66 L146.80,88.46 L147.47,88.26 L148.14,88.06 L148.81,87.86 L149.48,87.67 L150.15,87.48 L150.83,87.29 L151.50,87.09 L152.17,86.89 L152.84,86.69 L153.51,86.50 L154.19,86.30 L154.86,86.11 L155.53,85.92 L156.21,85.74 L156.89,85.55 L157.56,85.37 L158.24,85.19 L158.92,85.01 L159.60,84.84 L160.28,84.67 L160.96,84.49 L161.64,84.33 L162.32,84.16 L163.00,83.99 L163.69,83.83 L164.37,83.67 L165.05,83.51 L165.74,83.35 L166.42,83.19 L167.11,83.04 L167.80,82.88 L168.48,82.73 L169.17,82.58 L169.86,82.43 L170.55,82.28 L171.23,82.14 L171.92,81.99 L172.61,81.85 L173.30,81.71 L173.99,81.57 L174.69,81.43 L175.38,81.29 L176.07,81.15 L176.76,81.02 L177.45,80.88 L178.15,80.75 L178.84,80.62 L179.53,80.48 L180.23,80.35 L180.92,80.22 L181.62,80.09 L182.31,79.96 L183.01,79.84 L183.70,79.71 L184.40,79.58 L185.09,79.46 L185.79,79.33 L186.48,79.21 L187.18,79.09 L187.88,78.96 L188.57,78.84 L189.27,78.72 L189.97,78.60 L190.66,78.47 L191.36,78.35 L192.06,78.23 L192.75,78.11 L193.45,78.00 L194.15,77.88 L194.85,77.76 L195.54,77.64 L196.24,77.53 L196.94,77.41 L197.64,77.29 L198.33,77.18 L199.03,77.06 L199.73,76.95 L200.43,76.83 L201.13,76.72 L201.83,76.62 L202.52,76.51 L203.22,76.40 L203.92,76.29 L204.62,76.18 L205.32,76.08 L206.02,75.97 L206.72,75.86 L207.42,75.76 L208.12,75.65 L208.82,75.55 L209.52,75.44 L210.22,75.34 L210.92,75.24 L211.62,75.13 L212.32,75.03 L213.02,74.93 L213.72,74.83 L214.42,74.73 L215.12,74.62 L215.82,74.52 L216.52,74.42 L217.22,74.32 L217.92,74.23 L218.62,74.13 L219.32,74.03 L220.02,73.93 L220.72,73.83 L221.42,73.74 L222.12,73.64 L222.82,73.54 L223.52,73.45 L224.23,73.35 L224.93,73.26 L225.63,73.16 L226.33,73.07 L227.03,72.97 L227.73,72.88 L228.43,72.79 L229.14,72.69 L229.84,72.60 L230.54,72.51 L231.24,72.42 L231.94,72.33 L232.64,72.24 L233.35,72.14 L234.05,72.05 L234.75,71.96 L235.45,71.87 L236.15,71.79 L236.86,71.70 L237.56,71.61 L238.26,71.52 L238.96,71.43 L239.66,71.34 L240.37,71.26 L241.07,71.17 L241.77,71.08 L242.47,71.00 L243.18,70.91 L243.88,70.82 L244.58,70.74 L245.29,70.65 L245.99,70.57 L246.69,70.48 L247.39,70.40 L248.10,70.31 L248.80,70.23 L249.50,70.15 L250.21,70.06 L250.91,69.98 L251.61,69.90 L252.32,69.81 L253.02,69.73 L253.72,69.65 L254.43,69.57 L255.13,69.49 L255.83,69.41 L256.54,69.33 L257.24,69.24 L257.94,69.16 L258.65,69.08 L259.35,69.00 L260.05,68.92 L260.76,68.84 L261.46,68.76 L262.16,68.69 L262.87,68.61 L263.57,68.53 L264.28,68.45 L264.98,68.37 L265.68,68.29 L266.39,68.22 L267.09,68.14 L267.80,68.06 L268.50,67.98 L269.20,67.91 L269.91,67.83 L270.61,67.75 L271.32,67.68 L272.02,67.60 L272.72,67.52 L273.43,67.45 L274.13,67.37 L274.84,67.30 L275.54,67.22 L276.25,67.15 L276.95,67.07 L277.65,67.00 L278.36,66.92 L279.06,66.85 L279.77,66.78 L280.47,66.70 L281.18,66.63 L281.88,66.55 L282.59,66.48 L283.29,66.41 L283.99,66.34 L284.70,66.26 L285.40,66.19 L286.11,66.12 L286.81,66.05 L287.52,65.98 L288.22,65.91 L288.93,65.84 L289.63,65.76 L290.34,65.69 L291.04,65.62 L291.75,65.55 L292.45,65.48 L293.16,65.41 L293.86,65.34 L294.57,65.28 L295.27,65.21 L295.98,65.14 L296.68,65.07 L297.39,65.00 L298.09,64.93 L298.80,64.87 L299.50,64.80 L300.21,64.73 L300.91,64.67 L301.62,64.60 L302.32,64.54 L303.03,64.47 L303.73,64.41 L304.44,64.35 L305.14,64.28 L305.85,64.22 L306.55,64.16 L307.26,64.10 L307.96,64.03 L308.67,63.97 L309.38,63.91 L310.08,63.85 L310.79,63.79 L311.49,63.73 L312.20,63.67 L312.90,63.61 L313.61,63.55 L314.31,63.49 L315.02,63.43 L315.73,63.37 L316.43,63.31 L317.14,63.25 L317.84,63.19 L318.55,63.13 L319.25,63.07 L319.96,63.02 L320.67,62.96 L321.37,62.90 L322.08,62.84 L322.78,62.79 L323.49,62.73 L324.20,62.68 L324.90,62.62 L325.61,62.56 L326.31,62.51 L327.02,62.45 L327.72,62.40 L328.43,62.34 L329.14,62.29 L329.84,62.24 L330.55,62.18 L331.25,62.13 L331.96,62.07 L332.67,62.02 L333.37,61.97 L334.08,61.92 L334.79,61.86 L335.49,61.81 L336.20,61.76 L336.90,61.71 L337.61,61.66 L338.32,61.61 L339.02,61.56 L339.73,61.51 L340.43,61.46 L341.14,61.41 L341.85,61.36 L342.55,61.31 L343.26,61.26 L343.97,61.21 L344.67,61.16 L345.38,61.12 L346.09,61.07 L346.79,61.02 L347.50,60.97 L348.20,60.93 L348.91,60.88 L349.62,60.84 L350.32,60.79 L351.03,60.74 L351.74,60.70 L352.44,60.65 L353.15,60.61 L353.86,60.57 L354.56,60.52 L355.27,60.48 L355.98,60.43 L356.68,60.39 L357.39,60.35 L358.10,60.31 L358.80,60.26 L359.51,60.22 L360.22,60.18 L360.92,60.14 L361.63,60.10 L362.34,60.06 L363.04,60.02 L363.75,59.98 L364.46,59.94 L365.16,59.90 L365.87,59.86 L366.58,59.82 L367.28,59.78 L367.99,59.74 L368.70,59.70 L369.40,59.67 L370.11,59.63 L370.82,59.59 L371.52,59.56 L372.23,59.52 L372.94,59.48 L373.64,59.45 L374.35,59.41 L375.06,59.38 L375.77,59.34 L376.47,59.31 L377.18,59.27 L377.89,59.24 L378.59,59.21 L379.30,59.17 L380.01,59.14 L380.71,59.11 L381.42,59.08 L382.13,59.04 L382.83,59.01 L383.54,58.98 L384.25,58.95 L384.96,58.92 L385.66,58.89 L386.37,58.86 L387.08,58.83 L387.78,58.80 L388.49,58.77 L389.20,58.75 L389.91,58.72 L390.61,58.69 L391.32,58.66 L392.03,58.63 L392.73,58.61 L393.44,58.58 L394.15,58.56 L394.86,58.53 L395.56,58.50 L396.27,58.48 L396.98,58.45 L397.69,58.43 L398.39,58.41 L399.10,58.38 L399.81,58.36 L400.51,58.34 L401.22,58.31 L401.93,58.29 L402.64,58.27 L403.34,58.25 L404.05,58.23 L404.76,58.21 L405.47,58.19 L406.17,58.16 L406.88,58.15 L407.59,58.13 L408.29,58.11 L409.00,58.09 L409.71,58.07 L410.42,58.05 L411.12,58.03 L411.83,58.02 L412.54,58.00 L413.25,57.98 L413.95,57.97 L414.66,57.95 L415.37,57.94 L416.08,57.92 L416.78,57.91 L417.49,57.89 L418.20,57.88 L418.91,57.86 L419.61,57.85 L420.32,57.84 L421.03,57.82 L421.74,57.81 L422.44,57.80 L423.15,57.79 L423.86,57.78 L424.57,57.77 L425.27,57.76 L425.98,57.75 L426.69,57.74 L427.40,57.73 L428.10,57.72 L428.81,57.71 L429.52,57.70 L430.23,57.69 L430.94,57.67 L431.64,57.65 L432.35,57.62 L433.06,57.60 L433.76,57.58 L434.47,57.56 L435.18,57.54 L435.89,57.52 L436.60,57.50 L437.30,57.48 L438.01,57.46 L438.72,57.44 L439.43,57.42 L440.13,57.40 L440.84,57.38 L441.55,57.36 L442.26,57.35 L442.96,57.33 L443.67,57.31 L444.38,57.29 L445.09,57.28 L445.80,57.26 L446.50,57.25 L447.21,57.23 L447.92,57.22 L448.63,57.21 L449.34,57.19 L450.04,57.18 L450.75,57.17 L451.46,57.15 L452.17,57.14 L452.88,57.13 L453.58,57.12 L454.29,57.11 L473.90,57.10 L474.00,77.00 L474.40,112.00 L475.30,114.50 L475.70,145.00 L476.50,190.00 L478.00,225.00 L478.60,250.00 L479.10,275.00 L479.50,295.00 L480.30,335.00 L480.60,365.00 L481.50,366.50 L481.50,371.00"/>
<path stroke="#1fa35c" d="M71.53,385.60 L71.57,384.89 L71.62,384.17 L71.67,383.46 L71.72,382.75 L71.77,382.03 L71.82,381.32 L71.87,380.61 L71.92,379.89 L71.97,379.18 L72.02,378.47 L72.07,377.76 L72.12,377.05 L72.17,376.33 L72.22,375.62 L72.27,374.91 L72.32,374.20 L72.37,373.49 L72.42,372.77 L72.47,372.06 L72.52,371.35 L72.57,370.64 L72.63,369.93 L72.68,369.22 L72.73,368.51 L72.78,367.80 L72.83,367.09 L72.88,366.38 L72.94,365.67 L72.99,364.96 L73.04,364.25 L73.09,363.54 L73.15,362.83 L73.20,362.12 L73.25,361.41 L73.31,360.70 L73.36,359.99 L73.41,359.28 L73.47,358.57 L73.52,357.86 L73.57,357.16 L73.63,356.45 L73.68,355.74 L73.73,355.03 L73.79,354.32 L73.84,353.61 L73.90,352.91 L73.95,352.20 L74.01,351.49 L74.06,350.78 L74.12,350.08 L74.17,349.37 L74.23,348.66 L74.28,347.95 L74.34,347.25 L74.39,346.54 L74.45,345.83 L74.50,345.13 L74.56,344.42 L74.61,343.71 L74.67,343.01 L74.72,342.30 L74.78,341.59 L74.84,340.89 L74.89,340.18 L74.95,339.47 L75.01,338.77 L75.06,338.06 L75.12,337.36 L75.17,336.65 L75.23,335.94 L75.29,335.24 L75.35,334.53 L75.40,333.83 L75.46,333.12 L75.52,332.42 L75.57,331.71 L75.63,331.01 L75.69,330.30 L75.75,329.60 L75.80,328.89 L75.86,328.19 L75.92,327.48 L75.98,326.78 L76.03,326.07 L76.09,325.37 L76.15,324.66 L76.21,323.96 L76.27,323.25 L76.32,322.55 L76.38,321.85 L76.44,321.14 L76.50,320.44 L76.56,319.73 L76.62,319.03 L76.68,318.33 L76.73,317.62 L76.79,316.92 L76.85,316.21 L76.91,315.51 L76.97,314.81 L77.03,314.10 L77.09,313.40 L77.15,312.69 L77.21,311.99 L77.27,311.29 L77.33,310.58 L77.39,309.88 L77.44,309.18 L77.50,308.47 L77.56,307.77 L77.62,307.07 L77.68,306.36 L77.74,305.66 L77.80,304.96 L77.86,304.25 L77.92,303.55 L77.98,302.85 L78.04,302.14 L78.10,301.44 L78.16,300.74 L78.22,300.04 L78.28,299.33 L78.34,298.63 L78.40,297.93 L78.46,297.22 L78.52,296.52 L78.58,295.82 L78.65,295.12 L78.71,294.41 L78.77,293.71 L78.83,293.01 L78.89,292.30 L78.95,291.60 L79.01,290.90 L79.07,290.20 L79.13,289.49 L79.19,288.79 L79.25,288.09 L79.31,287.38 L79.37,286.68 L79.43,285.98 L79.50,285.28 L79.56,284.57 L79.62,283.87 L79.68,283.17 L79.74,282.47 L79.80,281.76 L79.86,281.06 L79.92,280.36 L79.98,279.65 L80.04,278.95 L80.11,278.25 L80.17,277.55 L80.23,276.84 L80.29,276.14 L80.35,275.44 L80.41,274.73 L80.47,274.03 L80.53,273.33 L80.60,272.63 L80.66,271.92 L80.72,271.22 L80.78,270.52 L80.84,269.81 L80.90,269.11 L80.96,268.41 L81.03,267.71 L81.09,267.00 L81.15,266.30 L81.21,265.60 L81.27,264.89 L81.33,264.19 L81.39,263.49 L81.45,262.78 L81.52,262.08 L81.58,261.38 L81.64,260.67 L81.70,259.97 L81.76,259.27 L81.82,258.56 L81.88,257.86 L81.95,257.16 L82.01,256.45 L82.07,255.75 L82.13,255.05 L82.19,254.34 L82.25,253.64 L82.31,252.93 L82.38,252.23 L82.44,251.53 L82.50,250.82 L82.56,250.12 L82.62,249.41 L82.68,248.71 L82.74,248.01 L82.80,247.30 L82.87,246.60 L82.93,245.89 L82.99,245.19 L83.05,244.48 L83.11,243.78 L83.17,243.07 L83.23,242.37 L83.29,241.67 L83.35,240.96 L83.41,240.26 L83.48,239.55 L83.54,238.85 L83.60,238.14 L83.66,237.44 L83.72,236.73 L83.78,236.02 L83.84,235.32 L83.90,234.61 L83.96,233.91 L84.02,233.20 L84.08,232.50 L84.14,231.79 L84.20,231.09 L84.27,230.38 L84.33,229.67 L84.39,228.97 L84.45,228.26 L84.51,227.56 L84.57,226.85 L84.63,226.14 L84.69,225.44 L84.75,224.73 L84.81,224.02 L84.87,223.32 L84.93,222.61 L84.99,221.90 L85.05,221.19 L85.11,220.49 L85.17,219.78 L85.23,219.07 L85.29,218.36 L85.35,217.66 L85.41,216.95 L85.47,216.24 L85.53,215.53 L85.59,214.83 L85.64,214.12 L85.70,213.41 L85.76,212.70 L85.82,211.99 L85.88,211.28 L85.94,210.57 L86.00,209.87 L86.06,209.16 L86.12,208.45 L86.18,207.74 L86.24,207.03 L86.29,206.32 L86.35,205.61 L86.41,204.90 L86.47,204.19 L86.53,203.48 L86.59,202.77 L86.64,202.06 L86.70,201.35 L86.76,200.64 L86.82,199.93 L86.88,199.22 L86.94,198.51 L86.99,197.80 L87.05,197.09 L87.11,196.37 L87.17,195.66 L87.22,194.95 L87.28,194.24 L87.34,193.53 L87.40,192.82 L87.45,192.10 L87.51,191.39 L87.57,190.68 L87.62,189.97 L87.68,189.25 L87.74,188.54 L87.79,187.83 L87.85,187.12 L87.91,186.40 L87.96,185.69 L88.02,184.98 L88.08,184.26 L88.13,183.55 L88.19,182.83 L88.24,182.12 L88.30,181.41 L88.36,180.69 L88.41,179.98 L88.47,179.26 L88.52,178.55 L88.58,177.83 L88.63,177.12 L88.69,176.40 L88.74,175.68 L88.80,174.97 L88.85,174.25 L88.91,173.54 L88.96,172.82 L89.02,172.10 L89.07,171.39 L89.13,170.67 L89.18,169.95 L89.24,169.24 L89.29,168.52 L89.35,167.80 L89.41,167.09 L89.46,166.37 L89.52,165.65 L89.58,164.94 L89.64,164.22 L89.70,163.51 L89.76,162.79 L89.83,162.08 L89.89,161.36 L89.96,160.65 L90.03,159.93 L90.10,159.22 L90.17,158.51 L90.24,157.80 L90.31,157.08 L90.39,156.37 L90.47,155.66 L90.55,154.95 L90.63,154.24 L90.72,153.54 L90.80,152.83 L90.89,152.12 L90.99,151.41 L91.08,150.71 L91.18,150.00 L91.28,149.30 L91.38,148.60 L91.49,147.90 L91.60,147.20 L91.71,146.50 L91.82,145.80 L91.94,145.10 L92.06,144.40 L92.19,143.71 L92.32,143.01 L92.45,142.32 L92.59,141.63 L92.73,140.94 L92.87,140.25 L93.02,139.56 L93.17,138.88 L93.32,138.19 L93.48,137.51 L93.65,136.83 L93.82,136.15 L93.99,135.47 L94.17,134.79 L94.35,134.12 L94.54,133.44 L94.73,132.77 L94.93,132.10 L95.13,131.43 L95.34,130.77 L95.55,130.10 L95.77,129.44 L95.99,128.78 L96.22,128.12 L96.45,127.46 L96.69,126.81 L96.94,126.15 L97.19,125.50 L97.44,124.85 L97.71,124.20 L97.98,123.56 L98.25,122.92 L98.53,122.28 L98.82,121.64 L99.11,121.00 L99.41,120.37 L99.72,119.74 L100.03,119.11 L100.36,118.49 L100.68,117.87 L101.02,117.25 L101.36,116.64 L101.71,116.03 L102.07,115.43 L102.43,114.83 L102.81,114.24 L103.19,113.65 L103.58,113.07 L103.98,112.49 L104.38,111.93 L104.80,111.37 L105.22,110.81 L105.66,110.27 L106.10,109.73 L106.55,109.20 L107.01,108.67 L107.48,108.16 L107.96,107.65 L108.44,107.15 L108.93,106.66 L109.43,106.17 L109.94,105.69 L110.46,105.22 L110.98,104.75 L111.51,104.29 L112.05,103.84 L112.59,103.39 L113.14,102.95 L113.69,102.52 L114.26,102.09 L114.82,101.67 L115.40,101.26 L115.97,100.85 L116.56,100.44 L117.15,100.05 L117.74,99.65 L118.34,99.27 L118.94,98.89 L119.55,98.51 L120.16,98.14 L120.77,97.78 L121.39,97.42 L122.01,97.06 L122.64,96.71 L123.27,96.37 L123.90,96.03 L124.53,95.69 L125.17,95.36 L125.81,95.03 L126.45,94.71 L127.09,94.39 L127.74,94.08 L128.39,93.77 L129.03,93.46 L129.68,93.16 L130.33,92.86 L130.99,92.57 L131.64,92.28 L132.29,91.99 L132.95,91.70 L133.60,91.42 L134.26,91.15 L134.92,90.87 L135.57,90.60 L136.23,90.34 L136.89,90.08 L137.55,89.82 L138.22,89.56 L138.88,89.31 L139.54,89.06 L140.21,88.81 L140.88,88.57 L141.54,88.33 L142.21,88.09 L142.88,87.86 L143.55,87.62 L144.22,87.40 L144.89,87.17 L145.56,86.95 L146.23,86.73 L146.91,86.51 L147.58,86.30 L148.26,86.09 L148.93,85.88 L149.61,85.67 L150.29,85.47 L150.96,85.27 L151.64,85.07 L152.32,84.88 L153.00,84.68 L153.68,84.49 L154.36,84.30 L155.05,84.12 L155.73,83.93 L156.41,83.75 L157.10,83.57 L157.78,83.40 L158.46,83.22 L159.15,83.05 L159.84,82.88 L160.52,82.71 L161.21,82.54 L161.90,82.38 L162.59,82.22 L163.27,82.05 L163.96,81.90 L164.65,81.74 L165.34,81.58 L166.03,81.43 L166.72,81.28 L167.42,81.13 L168.11,80.98 L168.80,80.83 L169.49,80.69 L170.19,80.54 L170.88,80.40 L171.57,80.26 L172.27,80.12 L172.96,79.98 L173.65,79.84 L174.35,79.71 L175.05,79.57 L175.74,79.44 L176.44,79.31 L177.13,79.17 L177.83,79.04 L178.53,78.91 L179.22,78.79 L179.92,78.66 L180.62,78.53 L181.31,78.41 L182.01,78.28 L182.71,78.16 L183.41,78.04 L184.10,77.91 L184.80,77.79 L185.50,77.67 L186.20,77.55 L186.90,77.43 L187.60,77.31 L188.29,77.19 L188.99,77.07 L189.69,76.96 L190.39,76.84 L191.09,76.72 L191.79,76.61 L192.49,76.49 L193.19,76.38 L193.88,76.26 L194.58,76.15 L195.28,76.03 L195.98,75.92 L196.68,75.81 L197.38,75.70 L198.08,75.59 L198.78,75.47 L199.48,75.36 L200.18,75.25 L200.88,75.14 L201.58,75.04 L202.28,74.93 L202.98,74.82 L203.68,74.71 L204.38,74.60 L205.08,74.50 L205.78,74.39 L206.48,74.29 L207.18,74.18 L207.88,74.08 L208.58,73.97 L209.28,73.87 L209.99,73.77 L210.69,73.66 L211.39,73.56 L212.09,73.46 L212.79,73.36 L213.49,73.26 L214.19,73.16 L214.89,73.06 L215.59,72.96 L216.30,72.86 L217.00,72.76 L217.70,72.66 L218.40,72.56 L219.10,72.46 L219.80,72.37 L220.51,72.27 L221.21,72.17 L221.91,72.08 L222.61,71.98 L223.31,71.88 L224.02,71.79 L224.72,71.70 L225.42,71.60 L226.12,71.51 L226.82,71.41 L227.53,71.32 L228.23,71.23 L228.93,71.14 L229.63,71.04 L230.34,70.95 L231.04,70.86 L231.74,70.77 L232.44,70.68 L233.15,70.59 L233.85,70.50 L234.55,70.41 L235.26,70.32 L235.96,70.23 L236.66,70.14 L237.36,70.06 L238.07,69.97 L238.77,69.88 L239.47,69.79 L240.18,69.71 L240.88,69.62 L241.58,69.53 L242.29,69.45 L242.99,69.36 L243.69,69.28 L244.40,69.19 L245.10,69.11 L245.80,69.02 L246.51,68.94 L247.21,68.86 L247.91,68.77 L248.62,68.69 L249.32,68.61 L250.03,68.52 L250.73,68.44 L251.43,68.36 L252.14,68.28 L252.84,68.20 L253.55,68.11 L254.25,68.03 L254.95,67.95 L255.66,67.87 L256.36,67.79 L257.07,67.71 L257.77,67.63 L258.47,67.55 L259.18,67.47 L259.88,67.39 L260.59,67.31 L261.29,67.24 L261.99,67.16 L262.70,67.08 L263.40,67.00 L264.11,66.92 L264.81,66.85 L265.52,66.77 L266.22,66.69 L266.93,66.61 L267.63,66.54 L268.33,66.46 L269.04,66.38 L269.74,66.31 L270.45,66.23 L271.15,66.16 L271.86,66.08 L272.56,66.00 L273.27,65.93 L273.97,65.85 L274.68,65.78 L275.38,65.71 L276.09,65.63 L276.79,65.56 L277.50,65.48 L278.20,65.41 L278.91,65.34 L279.61,65.26 L280.32,65.19 L281.02,65.12 L281.73,65.04 L282.43,64.97 L283.14,64.90 L283.84,64.83 L284.55,64.76 L285.25,64.69 L285.96,64.61 L286.66,64.54 L287.37,64.47 L288.07,64.40 L288.78,64.33 L289.48,64.26 L290.19,64.19 L290.89,64.12 L291.60,64.05 L292.30,63.98 L293.01,63.91 L293.71,63.85 L294.42,63.78 L295.13,63.71 L295.83,63.64 L296.54,63.57 L297.24,63.51 L297.95,63.44 L298.65,63.37 L299.36,63.30 L300.06,63.24 L300.77,63.17 L301.48,63.11 L302.18,63.04 L302.89,62.97 L303.59,62.91 L304.30,62.84 L305.00,62.78 L305.71,62.71 L306.42,62.65 L307.12,62.59 L307.83,62.52 L308.53,62.46 L309.24,62.40 L309.95,62.33 L310.65,62.27 L311.36,62.21 L312.06,62.14 L312.77,62.08 L313.48,62.02 L314.18,61.96 L314.89,61.90 L315.59,61.84 L316.30,61.78 L317.01,61.72 L317.71,61.66 L318.42,61.60 L319.12,61.54 L319.83,61.48 L320.54,61.42 L321.24,61.36 L321.95,61.30 L322.66,61.24 L323.36,61.18 L324.07,61.13 L324.77,61.07 L325.48,61.01 L326.19,60.95 L326.89,60.90 L327.60,60.84 L328.31,60.78 L329.01,60.73 L329.72,60.67 L330.43,60.62 L331.13,60.56 L331.84,60.51 L332.55,60.45 L333.25,60.40 L333.96,60.34 L334.67,60.29 L335.37,60.24 L336.08,60.18 L336.79,60.13 L337.49,60.08 L338.20,60.02 L338.91,59.97 L339.61,59.92 L340.32,59.87 L341.03,59.82 L341.73,59.77 L342.44,59.72 L343.15,59.67 L343.85,59.62 L344.56,59.57 L345.27,59.52 L345.97,59.47 L346.68,59.42 L347.39,59.37 L348.09,59.32 L348.80,59.27 L349.51,59.23 L350.22,59.18 L350.92,59.13 L351.63,59.08 L352.34,59.04 L353.04,58.99 L353.75,58.94 L354.46,58.90 L355.17,58.85 L355.87,58.81 L356.58,58.76 L357.29,58.72 L357.99,58.67 L358.70,58.63 L359.41,58.59 L360.12,58.54 L360.82,58.50 L361.53,58.46 L362.24,58.42 L362.95,58.37 L363.65,58.33 L364.36,58.29 L365.07,58.25 L365.77,58.21 L366.48,58.17 L367.19,58.13 L367.90,58.09 L368.60,58.05 L369.31,58.01 L370.02,57.97 L370.73,57.93 L371.43,57.89 L372.14,57.86 L372.85,57.82 L373.56,57.78 L374.26,57.74 L374.97,57.71 L375.68,57.67 L376.39,57.63 L377.09,57.60 L377.80,57.56 L378.51,57.53 L379.22,57.49 L379.93,57.46 L380.63,57.42 L381.34,57.39 L382.05,57.36 L382.76,57.32 L383.46,57.29 L384.17,57.26 L384.88,57.23 L385.59,57.20 L386.30,57.16 L387.00,57.13 L387.71,57.10 L388.42,57.07 L389.13,57.04 L389.83,57.01 L390.54,56.98 L391.25,56.95 L391.96,56.92 L392.67,56.90 L393.37,56.87 L394.08,56.84 L394.79,56.81 L395.50,56.79 L396.21,56.76 L396.91,56.73 L397.62,56.71 L398.33,56.68 L399.04,56.66 L399.75,56.63 L400.45,56.61 L401.16,56.58 L401.87,56.56 L402.58,56.53 L403.29,56.51 L404.00,56.49 L404.70,56.47 L405.41,56.44 L406.12,56.42 L406.83,56.40 L407.54,56.38 L408.24,56.36 L408.95,56.34 L409.66,56.32 L410.37,56.30 L411.08,56.28 L411.79,56.26 L412.49,56.24 L413.20,56.22 L413.91,56.20 L414.62,56.19 L415.33,56.17 L416.04,56.15 L416.74,56.14 L417.45,56.12 L418.16,56.10 L418.87,56.09 L419.58,56.07 L420.29,56.06 L420.99,56.05 L421.70,56.03 L422.41,56.02 L423.12,56.01 L423.83,55.99 L424.54,55.98 L425.24,55.97 L425.95,55.96 L426.66,55.95 L427.37,55.93 L428.08,55.92 L428.79,55.91 L429.50,55.90 L430.20,55.89 L430.91,55.89 L431.62,55.88 L432.33,55.87 L433.04,55.86 L433.75,55.85 L434.46,55.85 L435.16,55.84 L435.87,55.83 L436.58,55.83 L437.29,55.82 L438.00,55.82 L438.71,55.81 L439.42,55.81 L440.13,55.80 L440.83,55.80 L441.54,55.80 L442.25,55.79 L442.96,55.79 L443.67,55.79 L444.38,55.79 L445.09,55.79 L445.79,55.79 L446.50,55.79 L447.21,55.79 L447.92,55.79 L448.63,55.79 L449.34,55.79 L450.05,55.79 L450.76,55.79 L451.47,55.80 L452.17,55.80 L452.88,55.80 L453.59,55.80 L454.30,55.81 L454.90,66.00 L496.00,385.50"/>
</g>
<g font-size="16" text-anchor="middle">
<text x="71.20" y="405.2">0.00</text>
<text x="128.70" y="405.2">0.01</text>
<text x="186.20" y="405.2">0.02</text>
<text x="243.70" y="405.2">0.03</text>
<text x="301.20" y="405.2">0.04</text>
<text x="358.70" y="405.2">0.05</text>
<text x="416.20" y="405.2">0.06</text>
<text x="473.70" y="405.2">0.07</text>
<text x="531.20" y="405.2">0.08</text>
</g>
<g font-size="16" text-anchor="end">
<text x="63.6" y="390.00">0</text>
<text x="63.6" y="336.80">50</text>
<text x="63.6" y="284.30">100</text>
<text x="63.6" y="231.75">150</text>
<text x="63.6" y="178.00">200</text>
<text x="63.6" y="125.65">250</text>
<text x="63.6" y="72.80">300</text>
<text x="63.6" y="19.00">350</text>
</g>
<text class="b" transform="translate(301,429.4) scale(1,1.07)" font-size="19" text-anchor="middle">Strain</text>
<text class="b" transform="translate(21.6,189.4) rotate(-90) scale(1,1.07)" font-size="19" text-anchor="middle">Stress (MPa)</text>
<g>
<rect x="113.5" y="153.5" width="152" height="97.5" fill="#fff" stroke="#1a1a1a" stroke-width="1"/>
<g stroke-width="2.4" stroke-linecap="round">
<line x1="116" y1="166.8" x2="159" y2="166.8" stroke="#3c3c3c"/>
<line x1="116" y1="190.7" x2="159" y2="190.7" stroke="#ee2c2c"/>
<line x1="116" y1="214.1" x2="159" y2="214.1" stroke="#0362d8"/>
<line x1="116" y1="238" x2="159" y2="238" stroke="#1fa35c"/>
</g>
<g class="b" font-size="19">
<text x="163.4" y="173">Experiment</text>
<text x="163.4" y="196.8">1mm</text>
<text x="163.4" y="220.3">2mm</text>
<text x="163.4" y="244.1">5mm</text>
</g>
</g>
</svg>
</body></html>
